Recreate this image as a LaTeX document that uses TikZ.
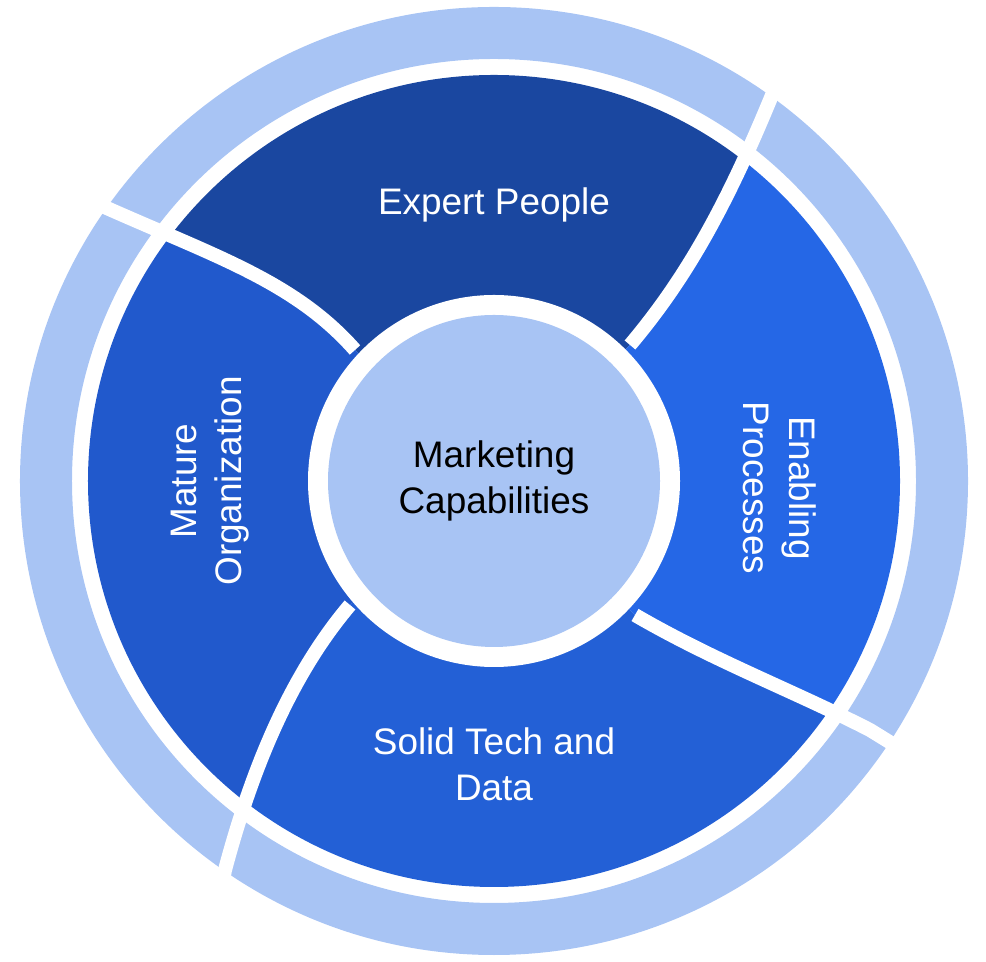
\documentclass[tikz,border=0pt]{standalone}
\usepackage{fontspec}
\setmainfont{Liberation Sans}
\definecolor{ring_light}{RGB}{168, 196, 244}
\definecolor{seg_people}{RGB}{26, 71, 160}
\definecolor{seg_org}{RGB}{33, 89, 204}
\definecolor{seg_proc}{RGB}{37, 103, 230}
\definecolor{seg_tech}{RGB}{35, 96, 214}
\tikzstyle{lbl}=[text=white,align=center,font=\fontsize{10.5}{13}\selectfont]
\tikzstyle{cut}=[draw=white,line width=0.14cm]
\begin{document}
\begin{tikzpicture}[x=0.01cm,y=0.01cm]
            \useasboundingbox (-494,-481) rectangle (492,481);
            % segments
            \begin{scope}
                \clip (0,0) circle (406);
                \fill [seg_people] (0,0) -- (-139,131) .. controls (-200,200) and (-280,225) .. (-394,276) -- (-800,600) -- (0,900) -- (400,700) -- (276,381) .. controls (230,270) and (190,200) .. (136,136) -- cycle;
                \fill [seg_proc] (0,0) -- (136,136) .. controls (190,200) and (230,270) .. (276,381) -- (400,700) -- (900,0) -- (600,-400) -- (376,-249) .. controls (300,-210) and (220,-180) .. (141,-134) -- cycle;
                \fill [seg_tech] (0,0) -- (141,-134) .. controls (220,-180) and (300,-210) .. (376,-249) -- (600,-400) -- (0,-900) -- (-400,-700) -- (-269,-389) .. controls (-240,-280) and (-200,-190) .. (-144,-124) -- cycle;
                \fill [seg_org] (0,0) -- (-144,-124) .. controls (-200,-190) and (-240,-280) .. (-269,-389) -- (-400,-700) -- (-900,0) -- (-800,600) -- (-394,276) .. controls (-280,225) and (-200,200) .. (-139,131) -- cycle;
            \end{scope}
            \fill [ring_light, even odd rule] (0,0) circle (474) (0,0) circle (422);
            % cuts
            \draw [cut] (-139,131) .. controls (-200,200) and (-280,225) .. (-394,276) -- (-420,295);
            \draw [cut] (136,136) .. controls (190,200) and (230,270) .. (276,381) -- (290,415);
            \draw [cut] (141,-134) .. controls (220,-180) and (300,-210) .. (376,-249) -- (410,-270);
            \draw [cut] (-144,-124) .. controls (-200,-190) and (-240,-280) .. (-269,-389) -- (-275,-420);
            \fill [white] (0,0) circle (186);
            \fill [ring_light] (0,0) circle (166);
            % labels
            \node [lbl] (people) at (0,276) {Expert People};
            \node [lbl, rotate=-90] (proc) at (286,-7) {Enabling\\Processes};
            \node [lbl, rotate=90] (org) at (-284,0) {Mature\\Organization};
            \node [lbl] (tech) at (0,-283) {Solid Tech and\\Data};
            \node [lbl, text=black] (core) at (0,0) {Marketing\\Capabilities};
    \end{tikzpicture}
\end{document}
